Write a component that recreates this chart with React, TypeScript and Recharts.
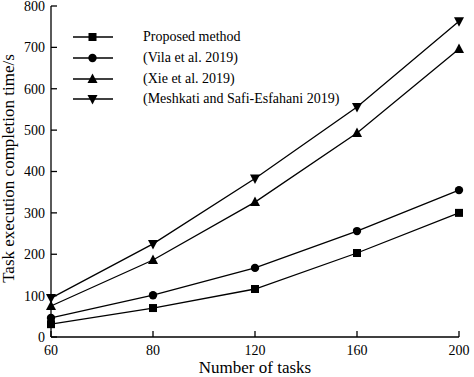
import React from "react";
import { Label, Legend, Line, LineChart, XAxis, YAxis } from "recharts";

const TASKS = [60, 80, 120, 160, 200];
const PROPOSED = [31, 70, 116, 203, 300];
const VILA = [46, 101, 167, 256, 355];
const XIE = [75, 186, 326, 493, 696];
const MESHKATI = [94, 225, 383, 556, 763];
const Y_TICKS = [0, 100, 200, 300, 400, 500, 600, 700, 800];

const FONT = "'Liberation Serif', 'Times New Roman', serif";

type Marker = "square" | "circle" | "up" | "down";

const SERIES: { key: string; name: string; marker: Marker }[] = [
  { key: "proposed", name: "Proposed method", marker: "square" },
  { key: "vila", name: "(Vila et al. 2019)", marker: "circle" },
  { key: "xie", name: "(Xie et al. 2019)", marker: "up" },
  { key: "meshkati", name: "(Meshkati and Safi-Esfahani 2019)", marker: "down" },
];

const data = TASKS.map((t, i) => ({
  tasks: t,
  proposed: PROPOSED[i],
  vila: VILA[i],
  xie: XIE[i],
  meshkati: MESHKATI[i],
}));

function drawMarker(marker: Marker, cx: number, cy: number, key?: string | number) {
  if (marker === "square") {
    return <rect key={key} x={cx - 4} y={cy - 4} width={8} height={8} fill="#000" />;
  }
  if (marker === "circle") {
    return <circle key={key} cx={cx} cy={cy} r={4.2} fill="#000" />;
  }
  if (marker === "up") {
    return (
      <polygon
        key={key}
        points={`${cx},${cy - 5.5} ${cx - 5},${cy + 4} ${cx + 5},${cy + 4}`}
        fill="#000"
      />
    );
  }
  return (
    <polygon
      key={key}
      points={`${cx},${cy + 5.5} ${cx - 5},${cy - 4} ${cx + 5},${cy - 4}`}
      fill="#000"
    />
  );
}

function LegendBox() {
  return (
    <div style={{ fontFamily: FONT, fontSize: 14, color: "#000" }}>
      {SERIES.map((s) => (
        <div
          key={s.key}
          style={{ display: "flex", alignItems: "center", height: 20.7 }}
        >
          <svg width={40} height={14} style={{ marginRight: 30 }}>
            <line x1={0} y1={7} x2={40} y2={7} stroke="#000" strokeWidth={1.4} />
            {drawMarker(s.marker, 19.5, 7)}
          </svg>
          <span style={{ fontFamily: FONT, whiteSpace: "nowrap" }}>{s.name}</span>
        </div>
      ))}
    </div>
  );
}

export default function App() {
  const tick = { fill: "#000", fontSize: 14, fontFamily: FONT };
  return (
    <div style={{ position: "absolute", left: 0, top: 0, fontFamily: FONT }}>
      <LineChart
        width={474}
        height={377}
        data={data}
        margin={{ top: 6, right: 15, bottom: 0, left: 0 }}
      >
        <XAxis
          dataKey="tasks"
          height={40}
          stroke="#000"
          strokeWidth={1.3}
          tickSize={-6}
          tickMargin={14}
          tick={tick}
          interval={0}
        >
          <Label
            content={({ viewBox }: any) => (
              <text
                x={viewBox.x + viewBox.width / 2}
                y={373}
                textAnchor="middle"
                fontFamily={FONT}
                fontSize={17}
                fill="#000"
              >
                Number of tasks
              </text>
            )}
          />
        </XAxis>
        <XAxis
          xAxisId="top"
          dataKey="tasks"
          orientation="top"
          height={0}
          stroke="#000"
          strokeWidth={1.3}
          tickSize={-6}
          tick={false}
          interval={0}
        />
        <YAxis
          domain={[0, 800]}
          ticks={Y_TICKS}
          width={51}
          stroke="#000"
          strokeWidth={1.3}
          tickSize={-6}
          tickMargin={12}
          tick={tick}
          interval={0}
        >
          <Label
            content={({ viewBox }: any) => {
              const cx = 14;
              const cy = viewBox.y + viewBox.height / 2 - 3;
              return (
                <text
                  x={cx}
                  y={cy}
                  transform={`rotate(-90 ${cx} ${cy})`}
                  textAnchor="middle"
                  fontFamily={FONT}
                  fontSize={17}
                  fill="#000"
                >
                  Task execution completion time/s
                </text>
              );
            }}
          />
        </YAxis>
        <YAxis
          yAxisId="right"
          orientation="right"
          domain={[0, 800]}
          ticks={Y_TICKS}
          width={0}
          stroke="#000"
          strokeWidth={1.3}
          tickSize={-6}
          tick={false}
          interval={0}
        />
        <Legend
          layout="vertical"
          align="center"
          verticalAlign="middle"
          wrapperStyle={{ top: 27, left: 73, width: "auto", fontFamily: FONT }}
          content={() => <LegendBox />}
        />
        {SERIES.map((s) => (
          <Line
            key={s.key}
            dataKey={s.key}
            name={s.name}
            stroke="#000"
            strokeWidth={1.3}
            type="linear"
            isAnimationActive={false}
            dot={(p: any) => drawMarker(s.marker, p.cx, p.cy, p.index)}
            activeDot={false}
          />
        ))}
      </LineChart>
    </div>
  );
}
